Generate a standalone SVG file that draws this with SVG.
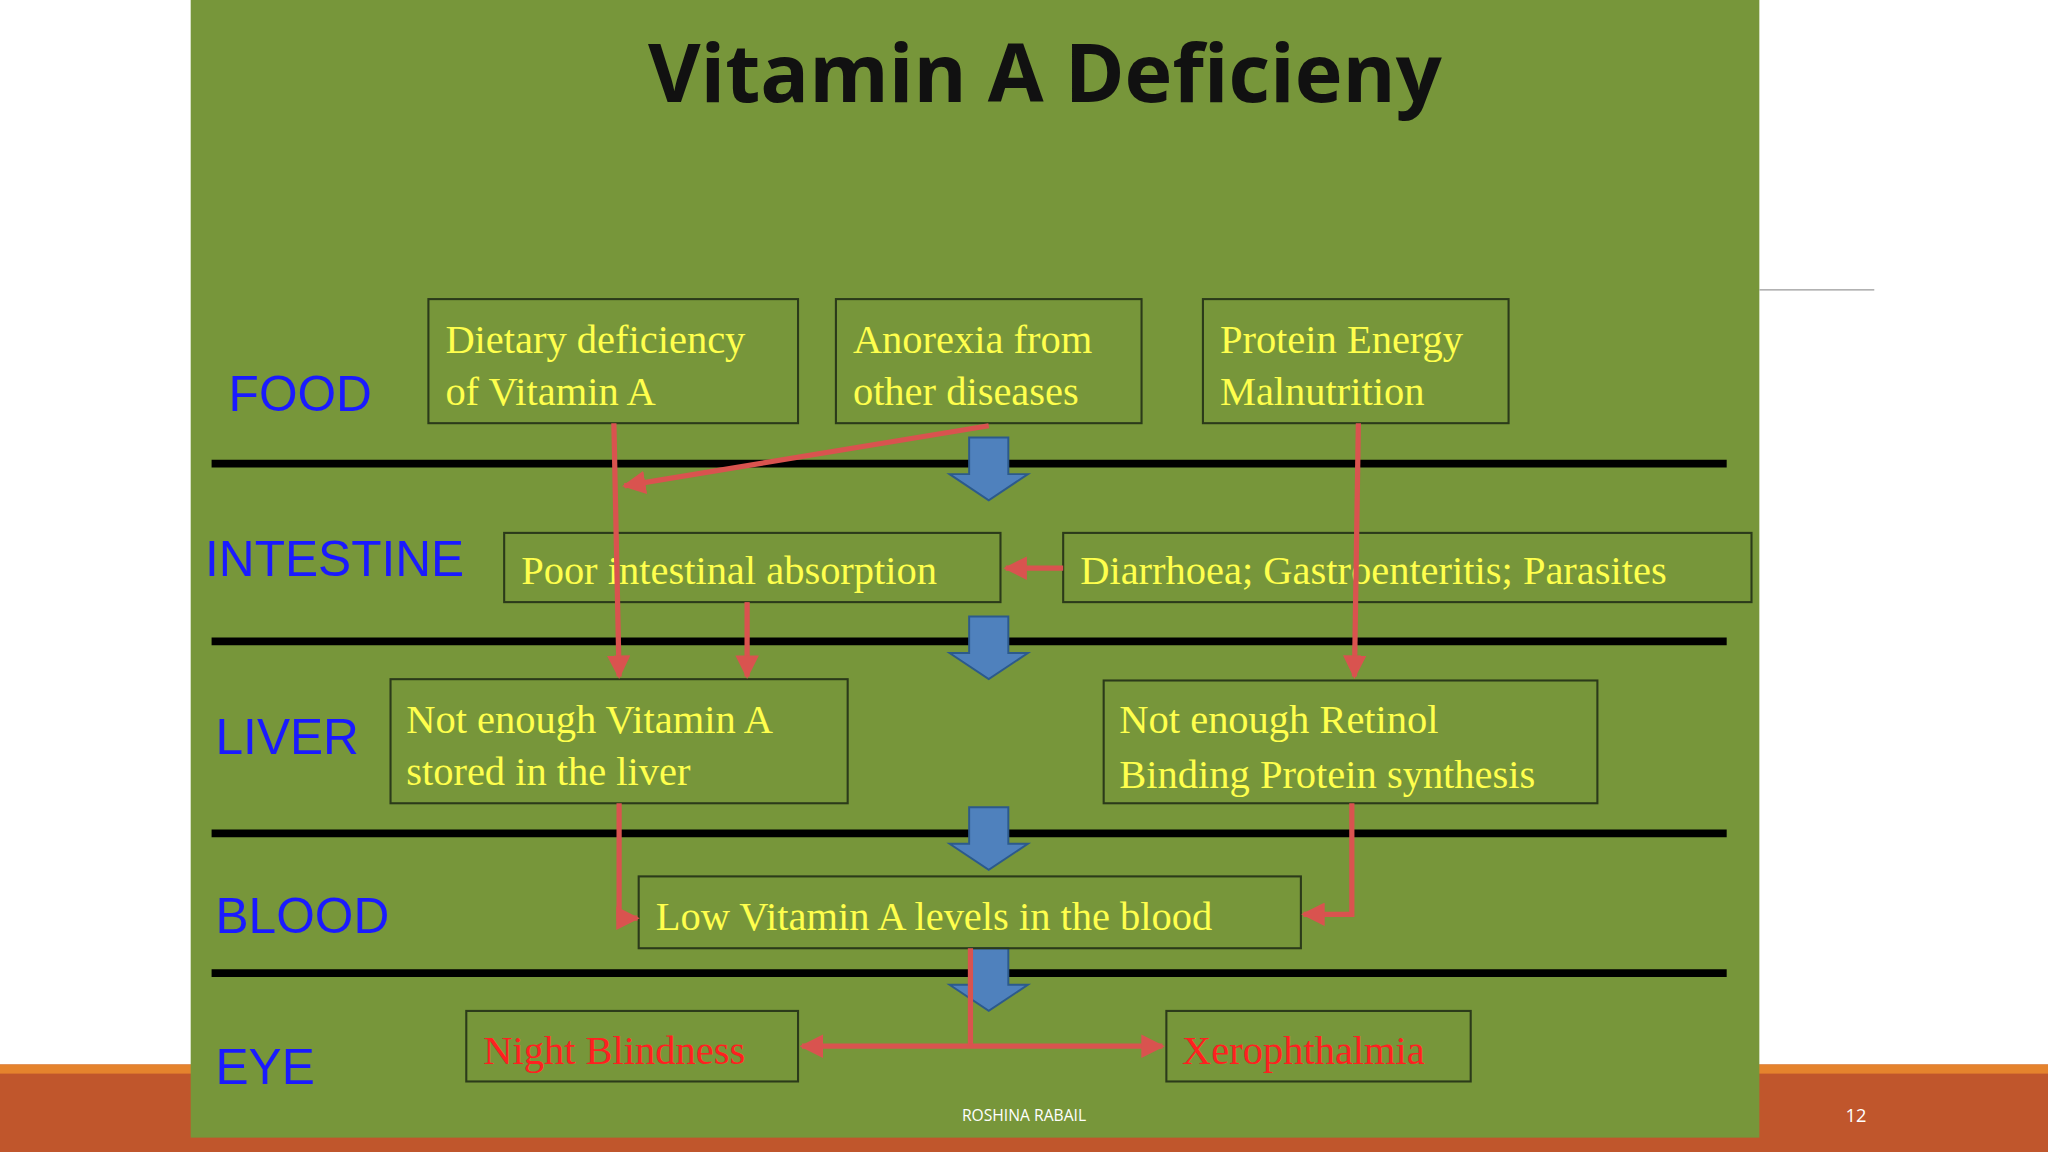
<svg xmlns="http://www.w3.org/2000/svg" width="2048" height="1152" viewBox="0 0 2048 1152">
<defs>
<style>
.box{fill:none;stroke:#2b3a1a;stroke-width:1.6}
.yt{font-family:"Liberation Serif",serif;font-size:31px;fill:#ffff4d}
.rt{font-family:"Liberation Serif",serif;font-size:31px;fill:#ff2020}
.lb{font-family:"Liberation Sans",sans-serif;font-size:38px;fill:#1a1aff}
.bar{stroke:#000;stroke-width:6}
.red{fill:none;stroke:#d9534f;stroke-width:4}
.blk{fill:#4f81bd;stroke:#2c5a8c;stroke-width:1.5}
</style>
<marker id="ah" viewBox="0 0 10 10" refX="9" refY="5" markerWidth="4.5" markerHeight="4.5" orient="auto-start-reverse"><path d="M0,0L10,5L0,10z" fill="#d9534f"/></marker>
<path id="bl" d="M-15,0H15V28H30L0,48L-30,28H-15z"/>
</defs>
<rect width="2048" height="1152" fill="#fff"/>
<g transform="scale(1.30612)">
<rect x="0" y="815" width="1568" height="67" fill="#c0562c"/>
<rect x="0" y="815" width="1568" height="7" fill="#e5832d"/>
<rect x="146" y="0" width="1201" height="871" fill="#77963a"/>
<line x1="1347" y1="222" x2="1435" y2="222" stroke="#999" stroke-width="1"/>
<text x="800" y="78" text-anchor="middle" font-family="Open Sans,sans-serif" font-weight="bold" font-size="62" fill="#111">Vitamin A Deficieny</text>
<text x="784" y="858" text-anchor="middle" font-family="Open Sans,sans-serif" font-size="12" fill="#fff">ROSHINA RABAIL</text>
<text x="1421" y="859" text-anchor="middle" font-family="Open Sans,sans-serif" font-size="14" fill="#fff">12</text>
<g id="labels">
<text class="lb" x="175" y="315">FOOD</text>
<text class="lb" x="157" y="441">INTESTINE</text>
<text class="lb" x="165" y="577">LIVER</text>
<text class="lb" x="165" y="714">BLOOD</text>
<text class="lb" x="165" y="830">EYE</text>
</g>
<g id="bars">
<line class="bar" x1="162" y1="355" x2="1322" y2="355"/>
<line class="bar" x1="162" y1="491" x2="1322" y2="491"/>
<line class="bar" x1="162" y1="638" x2="1322" y2="638"/>
<line class="bar" x1="162" y1="745" x2="1322" y2="745"/>
</g>
<g id="blocks">
<use href="#bl" class="blk" x="757" y="335"/>
<use href="#bl" class="blk" x="757" y="472"/>
<use href="#bl" class="blk" x="757" y="618"/>
<use href="#bl" class="blk" x="757" y="726"/>
</g>
<g id="n1"><rect class="box" x="328" y="229" width="283" height="95"/><text class="yt" x="341" y="270">Dietary deficiency</text><text class="yt" x="341" y="310">of Vitamin A</text></g>
<g id="n2"><rect class="box" x="640" y="229" width="234" height="95"/><text class="yt" x="653" y="270">Anorexia from</text><text class="yt" x="653" y="310">other diseases</text></g>
<g id="n3"><rect class="box" x="921" y="229" width="234" height="95"/><text class="yt" x="934" y="270">Protein Energy</text><text class="yt" x="934" y="310">Malnutrition</text></g>
<g id="n4"><rect class="box" x="386" y="408" width="380" height="53"/><text class="yt" x="399" y="447">Poor intestinal absorption</text></g>
<g id="n5"><rect class="box" x="814" y="408" width="527" height="53"/><text class="yt" x="827" y="447">Diarrhoea; Gastroenteritis; Parasites</text></g>
<g id="n6"><rect class="box" x="299" y="520" width="350" height="95"/><text class="yt" x="311" y="561">Not enough Vitamin A</text><text class="yt" x="311" y="601">stored in the liver</text></g>
<g id="n7"><rect class="box" x="845" y="521" width="378" height="94"/><text class="yt" x="857" y="561">Not enough Retinol</text><text class="yt" x="857" y="603">Binding Protein synthesis</text></g>
<g id="n8"><rect class="box" x="489" y="671" width="507" height="55"/><text class="yt" x="502" y="712">Low Vitamin A levels in the blood</text></g>
<g id="n9"><rect class="box" x="357" y="774" width="254" height="54"/><text class="rt" x="370" y="815">Night Blindness</text></g>
<g id="n10"><rect class="box" x="893" y="774" width="233" height="54"/><text class="rt" x="905" y="815">Xerophthalmia</text></g>
<g id="connectors">
<path class="red" marker-end="url(#ah)" d="M470,324L474,518"/>
<path class="red" marker-end="url(#ah)" d="M757,326L478,372"/>
<path class="red" marker-end="url(#ah)" d="M572,461L572,518"/>
<path class="red" marker-end="url(#ah)" d="M1040,324L1037,518"/>
<path class="red" marker-end="url(#ah)" d="M814,435L770,435"/>
<path class="red" marker-end="url(#ah)" d="M474,615L474,703L488,703"/>
<path class="red" marker-end="url(#ah)" d="M1035,615L1035,700L998,700"/>
<path class="red" d="M743,726L743,801"/>
<path class="red" marker-start="url(#ah)" marker-end="url(#ah)" d="M614,801L890,801"/>
</g>
</g>
</svg>
